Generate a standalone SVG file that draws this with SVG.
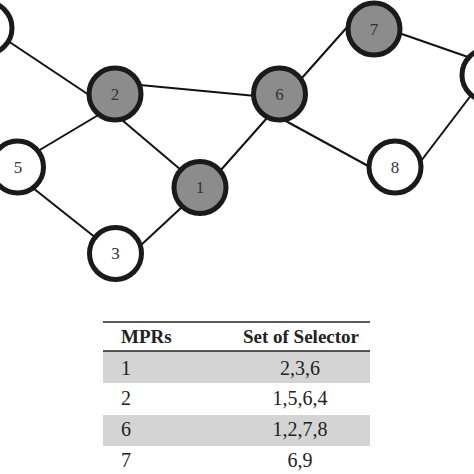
<svg xmlns="http://www.w3.org/2000/svg" width="474" height="474" viewBox="0 0 474 474">
<style>
.n{stroke:#1a1a1a;stroke-width:5}
.w{fill:#fff}
.g{fill:#8c8c8c}
.lbl{font-family:"Liberation Serif",serif;font-size:17px;fill:#333;text-anchor:middle}
.e{stroke:#111;stroke-width:2}
.t{font-family:"Liberation Serif",serif;font-size:20px;fill:#222}
.h{font-family:"Liberation Serif",serif;font-size:19px;font-weight:bold;fill:#222}
</style>
<rect width="474" height="474" fill="#fff"/>
<g id="connectors">
<line class="e" x1="8" y1="41" x2="92" y2="97"/>
<line class="e" x1="140" y1="85" x2="256" y2="96"/>
<line class="e" x1="38" y1="151" x2="100" y2="114"/>
<line class="e" x1="122" y1="120" x2="181" y2="170"/>
<line class="e" x1="33" y1="188" x2="96" y2="238"/>
<line class="e" x1="140" y1="246" x2="182" y2="207"/>
<line class="e" x1="220" y1="171" x2="267" y2="118"/>
<line class="e" x1="301" y1="79" x2="349" y2="25"/>
<line class="e" x1="284" y1="120" x2="370" y2="167"/>
<line class="e" x1="399" y1="33" x2="468" y2="57"/>
<line class="e" x1="421" y1="161" x2="472" y2="94"/>
</g>
<g id="node4"><circle class="n w" cx="-14" cy="28" r="26"/></g>
<g id="node2"><circle class="n g" cx="115" cy="94" r="26"/><text class="lbl" x="115" y="100">2</text></g>
<g id="node5"><circle class="n w" cx="17.5" cy="167" r="26"/><text class="lbl" x="18" y="173">5</text></g>
<g id="node1"><circle class="n g" cx="200" cy="187.5" r="26"/><text class="lbl" x="200" y="193">1</text></g>
<g id="node3"><circle class="n w" cx="115.5" cy="253.5" r="26"/><text class="lbl" x="115.5" y="259">3</text></g>
<g id="node6"><circle class="n g" cx="279.5" cy="94" r="26"/><text class="lbl" x="279.5" y="100">6</text></g>
<g id="node7"><circle class="n g" cx="374" cy="29" r="26"/><text class="lbl" x="374" y="35">7</text></g>
<g id="node8"><circle class="n w" cx="395" cy="167" r="26"/><text class="lbl" x="395" y="173">8</text></g>
<g id="node9"><circle class="n w" cx="488" cy="75" r="26"/></g>
<g id="table">
<rect x="103" y="351" width="267" height="32" fill="#d4d4d4"/>
<rect x="103" y="415" width="267" height="31" fill="#d4d4d4"/>
<line x1="103" y1="322" x2="370" y2="322" stroke="#222" stroke-width="1.5"/>
<line x1="103" y1="351" x2="370" y2="351" stroke="#222" stroke-width="1.5"/>
<text class="h" x="121" y="343">MPRs</text>
<text class="h" x="301" y="343" text-anchor="middle">Set of Selector</text>
<text class="t" x="121" y="375">1</text>
<text class="t" x="300" y="375" text-anchor="middle">2,3,6</text>
<text class="t" x="121" y="405">2</text>
<text class="t" x="300" y="405" text-anchor="middle">1,5,6,4</text>
<text class="t" x="121" y="436">6</text>
<text class="t" x="300" y="436" text-anchor="middle">1,2,7,8</text>
<text class="t" x="121" y="467">7</text>
<text class="t" x="300" y="467" text-anchor="middle">6,9</text>
</g>
</svg>
